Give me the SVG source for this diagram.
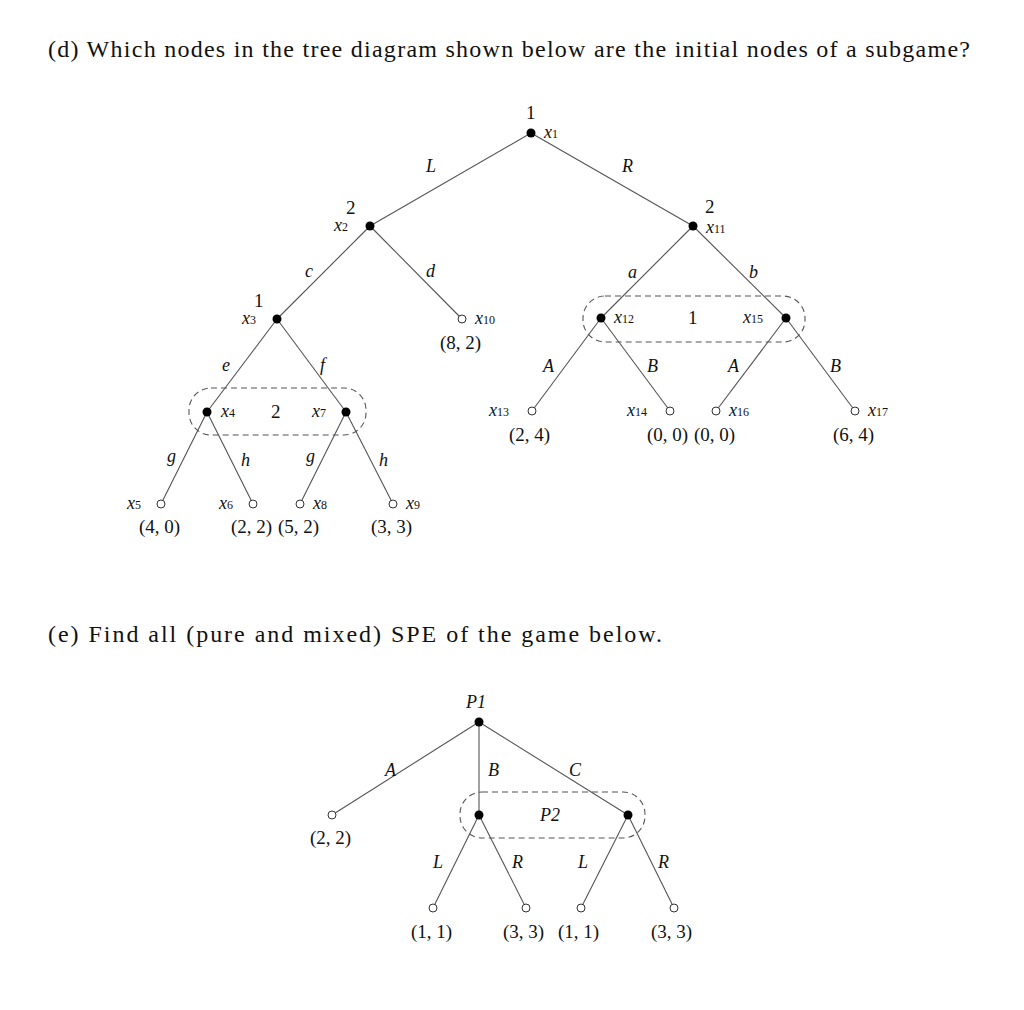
<svg xmlns="http://www.w3.org/2000/svg" width="1024" height="1010" viewBox="0 0 1024 1010">
<style>
text{font-family:"Liberation Serif","DejaVu Serif",serif;fill:#111}
.t{font-size:24px}
.l{font-size:18px;font-style:italic}
.n{font-size:19px}
.s{font-size:12px;font-style:normal}
.e line{stroke:#555;stroke-width:1.1}
.info{fill:none;stroke:#555;stroke-width:1.1;stroke-dasharray:6 4}
.d{fill:#000}
.o{fill:#fff;stroke:#333;stroke-width:1}
</style>
<rect width="1024" height="1010" fill="#fff"/>
<text class="t" x="48" y="57" textLength="922" lengthAdjust="spacing">(d) Which nodes in the tree diagram shown below are the initial nodes of a subgame?</text>
<text class="t" x="48" y="642" textLength="614" lengthAdjust="spacing">(e) Find all (pure and mixed) SPE of the game below.</text>
<g id="connectors" class="e">
<line x1="531" y1="133" x2="370" y2="226"/><line x1="531" y1="133" x2="693" y2="226"/>
<line x1="370" y1="226" x2="277" y2="319"/><line x1="370" y1="226" x2="462" y2="319"/>
<line x1="277" y1="319" x2="207" y2="412"/><line x1="277" y1="319" x2="346" y2="412"/>
<line x1="207" y1="412" x2="161" y2="504"/><line x1="207" y1="412" x2="253" y2="504"/>
<line x1="346" y1="412" x2="300" y2="504"/><line x1="346" y1="412" x2="393" y2="504"/>
<line x1="693" y1="226" x2="601" y2="318"/><line x1="693" y1="226" x2="786" y2="318"/>
<line x1="601" y1="318" x2="532" y2="411"/><line x1="601" y1="318" x2="670" y2="411"/>
<line x1="786" y1="318" x2="716" y2="411"/><line x1="786" y1="318" x2="855" y2="411"/>
<line x1="479" y1="722" x2="332" y2="815"/><line x1="479" y1="722" x2="479" y2="815"/><line x1="479" y1="722" x2="628" y2="815"/>
<line x1="479" y1="815" x2="433" y2="908"/><line x1="479" y1="815" x2="526" y2="908"/>
<line x1="628" y1="815" x2="581" y2="908"/><line x1="628" y1="815" x2="674" y2="908"/>
</g>
<g id="infosets">
<rect class="info" x="189" y="388" width="177" height="47" rx="22"/>
<rect class="info" x="583" y="296" width="222" height="46" rx="22"/>
<rect class="info" x="460" y="792" width="185" height="46" rx="22"/>
</g>
<g id="edge-labels" class="l">
<text x="426" y="172">L</text><text x="622" y="172">R</text>
<text x="305" y="277">c</text><text x="426" y="277">d</text>
<text x="222" y="371">e</text><text x="320" y="371">f</text>
<text x="167" y="462">g</text><text x="241" y="466">h</text><text x="306" y="462">g</text><text x="379" y="466">h</text>
<text x="628" y="278">a</text><text x="749" y="278">b</text>
<text x="543" y="372">A</text><text x="647" y="372">B</text><text x="728" y="372">A</text><text x="830" y="372">B</text>
<text x="385" y="776">A</text><text x="488" y="776">B</text><text x="569" y="776">C</text>
<text x="433" y="868">L</text><text x="512" y="868">R</text><text x="578" y="868">L</text><text x="658" y="868">R</text>
</g>
<g id="x1"><circle class="d" cx="531" cy="133" r="4.5"/><text class="n" x="526" y="119">1</text><text class="l" x="544" y="138">x<tspan class="s">1</tspan></text></g>
<g id="x2"><circle class="d" cx="370" cy="226" r="4.5"/><text class="n" x="346" y="214">2</text><text class="l" x="334" y="231">x<tspan class="s">2</tspan></text></g>
<g id="x3"><circle class="d" cx="277" cy="319" r="4.5"/><text class="n" x="254" y="307">1</text><text class="l" x="242" y="324">x<tspan class="s">3</tspan></text></g>
<g id="x10"><circle class="o" cx="462" cy="319" r="4"/><text class="l" x="475" y="324">x<tspan class="s">10</tspan></text><text class="n" x="440" y="349">(8, 2)</text></g>
<g id="x4"><circle class="d" cx="207" cy="412" r="4.5"/><text class="l" x="221" y="417">x<tspan class="s">4</tspan></text></g>
<text class="n" x="271" y="418">2</text>
<g id="x7"><circle class="d" cx="346" cy="412" r="4.5"/><text class="l" x="312" y="417">x<tspan class="s">7</tspan></text></g>
<g id="x5"><circle class="o" cx="161" cy="504" r="4"/><text class="l" x="127" y="509">x<tspan class="s">5</tspan></text><text class="n" x="139" y="533">(4, 0)</text></g>
<g id="x6"><circle class="o" cx="253" cy="504" r="4"/><text class="l" x="219" y="509">x<tspan class="s">6</tspan></text><text class="n" x="231" y="533">(2, 2)</text></g>
<g id="x8"><circle class="o" cx="300" cy="504" r="4"/><text class="l" x="313" y="509">x<tspan class="s">8</tspan></text><text class="n" x="278" y="533">(5, 2)</text></g>
<g id="x9"><circle class="o" cx="393" cy="504" r="4"/><text class="l" x="406" y="509">x<tspan class="s">9</tspan></text><text class="n" x="371" y="533">(3, 3)</text></g>
<g id="x11"><circle class="d" cx="693" cy="226" r="4.5"/><text class="n" x="705" y="213">2</text><text class="l" x="706" y="233">x<tspan class="s">11</tspan></text></g>
<g id="x12"><circle class="d" cx="601" cy="318" r="4.5"/><text class="l" x="614" y="323">x<tspan class="s">12</tspan></text></g>
<text class="n" x="688" y="324">1</text>
<g id="x15"><circle class="d" cx="786" cy="318" r="4.5"/><text class="l" x="743" y="323">x<tspan class="s">15</tspan></text></g>
<g id="x13"><circle class="o" cx="532" cy="411" r="4"/><text class="l" x="489" y="416">x<tspan class="s">13</tspan></text><text class="n" x="509" y="441">(2, 4)</text></g>
<g id="x14"><circle class="o" cx="670" cy="411" r="4"/><text class="l" x="627" y="416">x<tspan class="s">14</tspan></text><text class="n" x="647" y="441">(0, 0)</text></g>
<g id="x16"><circle class="o" cx="716" cy="411" r="4"/><text class="l" x="729" y="416">x<tspan class="s">16</tspan></text><text class="n" x="694" y="441">(0, 0)</text></g>
<g id="x17"><circle class="o" cx="855" cy="411" r="4"/><text class="l" x="868" y="416">x<tspan class="s">17</tspan></text><text class="n" x="833" y="441">(6, 4)</text></g>
<g id="P1"><circle class="d" cx="479" cy="722" r="4.5"/><text class="l" x="466" y="708">P1</text></g>
<g id="P2a"><circle class="d" cx="479" cy="815" r="4.5"/></g>
<text class="l" x="540" y="821">P2</text>
<g id="P2b"><circle class="d" cx="628" cy="815" r="4.5"/></g>
<g id="e-A"><circle class="o" cx="332" cy="815" r="4"/><text class="n" x="310" y="844">(2, 2)</text></g>
<g id="e-BL"><circle class="o" cx="433" cy="908" r="4"/><text class="n" x="411" y="938">(1, 1)</text></g>
<g id="e-BR"><circle class="o" cx="526" cy="908" r="4"/><text class="n" x="503" y="938">(3, 3)</text></g>
<g id="e-CL"><circle class="o" cx="581" cy="908" r="4"/><text class="n" x="558" y="938">(1, 1)</text></g>
<g id="e-CR"><circle class="o" cx="674" cy="908" r="4"/><text class="n" x="651" y="938">(3, 3)</text></g>
</svg>
